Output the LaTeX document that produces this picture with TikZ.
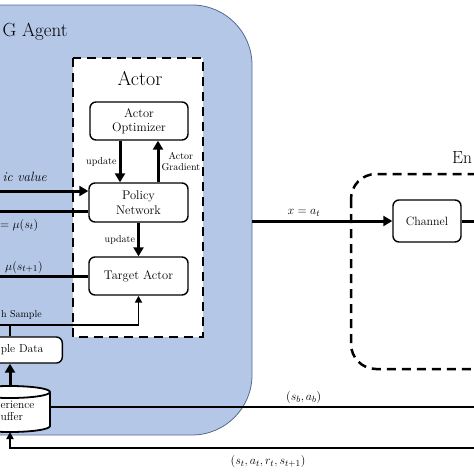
\documentclass[tikz,border=0pt]{standalone}
\usetikzlibrary{arrows.meta}
\definecolor{agentblue}{RGB}{180,199,231}
\definecolor{agentedge}{RGB}{84,106,146}

\begin{document}
\begin{tikzpicture}[x=1pt, y=-1pt,
  box/.style={draw, rounded corners=6pt, line width=1.4pt, fill=white, align=center, font=\fontsize{12.5}{14.5}\selectfont},
  dashbox/.style={line width=2.5pt, dash pattern=on 9pt off 6pt},
  flow/.style={line width=3pt, -{Triangle[length=9pt,width=10pt]}},
  link/.style={line width=1.8pt, -{Triangle[length=7pt,width=7pt]}},
  lbl/.style={font=\fontsize{10}{11.5}\selectfont, inner sep=2pt},
  mlbl/.style={font=\fontsize{12.5}{14}\selectfont, inner sep=1pt}]

  \useasboundingbox (0,0) rectangle (474,474);
  \clip (0,0) rectangle (474,474);

  % agent, environment and actor frames
  \draw[fill=agentblue, draw=agentedge, line width=0.8pt, rounded corners=60pt] (-100,5) rectangle (252,435);
  \draw[dashbox, rounded corners=25pt] (351,174) rectangle (540,369);
  \draw[dashbox, fill=white] (73,58) rectangle (203,337);

  \node[anchor=west, font=\fontsize{19}{21}\selectfont] (agtl) at (-1,32) {G Agent};
  \node[font=\fontsize{20}{22}\selectfont] (actl) at (140,79) {Actor};
  \node[anchor=west, font=\fontsize{17.5}{20}\selectfont, inner sep=0pt] (envl) at (452,158) {En};

  % boxes
  \node[box, minimum width=98pt, minimum height=38pt] (opt) at (139,121) {Actor\\Optimizer};
  \node[box, minimum width=99pt, minimum height=39pt] (pol) at (138.5,202.5) {Policy\\Network};
  \node[box, minimum width=99pt, minimum height=38pt] (tgt) at (138.5,276) {Target Actor};
  \node[box, minimum width=68pt, minimum height=42pt, font=\fontsize{12}{14}\selectfont] (chan) at (427,221) {Channel};
  \node[box, anchor=east, inner xsep=19pt, text width=90pt, align=right, minimum height=26pt,
        font=\fontsize{11.5}{13}\selectfont] (smp) at (63,350) {ple Data};

  % experience buffer
  \draw[fill=white, line width=1.8pt] (-30,392) -- (-30,426) arc[start angle=180, end angle=0, x radius=40, y radius=6]
    -- (50,392) arc[start angle=0, end angle=-180, x radius=40, y radius=6] -- cycle;
  \draw[line width=1.8pt] (-30,392) arc[start angle=180, end angle=0, x radius=40, y radius=6];
  \node[anchor=west, align=left, inner sep=0pt, font=\fontsize{11.5}{12.5}\selectfont] (buf) at (0.5,411) {erience\\uffer};
  \coordinate (buft) at (10,386);
  \coordinate (bufb) at (10,432);
  \coordinate (bufr) at (50,407);

  % actor arrows
  \draw[flow] ([xshift=-19pt]opt.south) -- node[left, lbl] {update} ([xshift=-19pt]opt.south |- pol.north);
  \draw[flow] ([xshift=19pt]opt.south |- pol.north) -- node[right, lbl, align=center] {Actor\\Gradient} ([xshift=19pt]opt.south);
  \draw[flow] (pol.south) -- node[left, lbl] {update} (tgt.north);

  % lines to the critic side
  \coordinate (cvin) at (-5,191);
  \coordinate (aout) at (-5,211);
  \coordinate (munx) at (-5,276);
  \coordinate (bsin) at (-5,325);
  \draw[flow] (cvin) -- (cvin -| pol.west);
  \draw[flow, -] (aout -| pol.west) -- (aout);
  \draw[flow, -] (tgt.west) -- (munx);
  \draw[link] (bsin) -| (tgt.south);
  \draw[link, -] (smp.north -| buft) -- (buft |- bsin);
  \draw[flow] (buft) -- (buft |- smp.south);

  \node[anchor=west, font=\itshape\fontsize{13.5}{15}\selectfont] (cvl) at (-1,177) {ic value};
  \node[anchor=west, mlbl] (al) at (-1,225) {$=\mu(s_t)$};
  \node[anchor=west, mlbl] (munl) at (4,267) {$\mu(s_{t+1})$};
  \node[anchor=west, lbl] (bsl) at (-1,315) {h Sample};

  % agent to environment and back
  \coordinate (aedge) at (252,221);
  \coordinate (chout) at (480,221);
  \coordinate (sbin) at (480,407);
  \coordinate (expin) at (480,448);
  \draw[flow] (aedge) -- node[above, mlbl, pos=0.37, yshift=2pt] {$x=a_t$} (chan.west);
  \draw[flow, -] (chan.east) -- (chout);
  \draw[link, -] (bufr) -- node[above, mlbl, pos=0.59, yshift=2pt] {$(s_b,a_b)$} (sbin);
  \draw[link] (expin) -| node[below, mlbl, pos=0.2255, yshift=-6pt] {$(s_t,a_t,r_t,s_{t+1})$} (bufb);

\end{tikzpicture}
\end{document}
